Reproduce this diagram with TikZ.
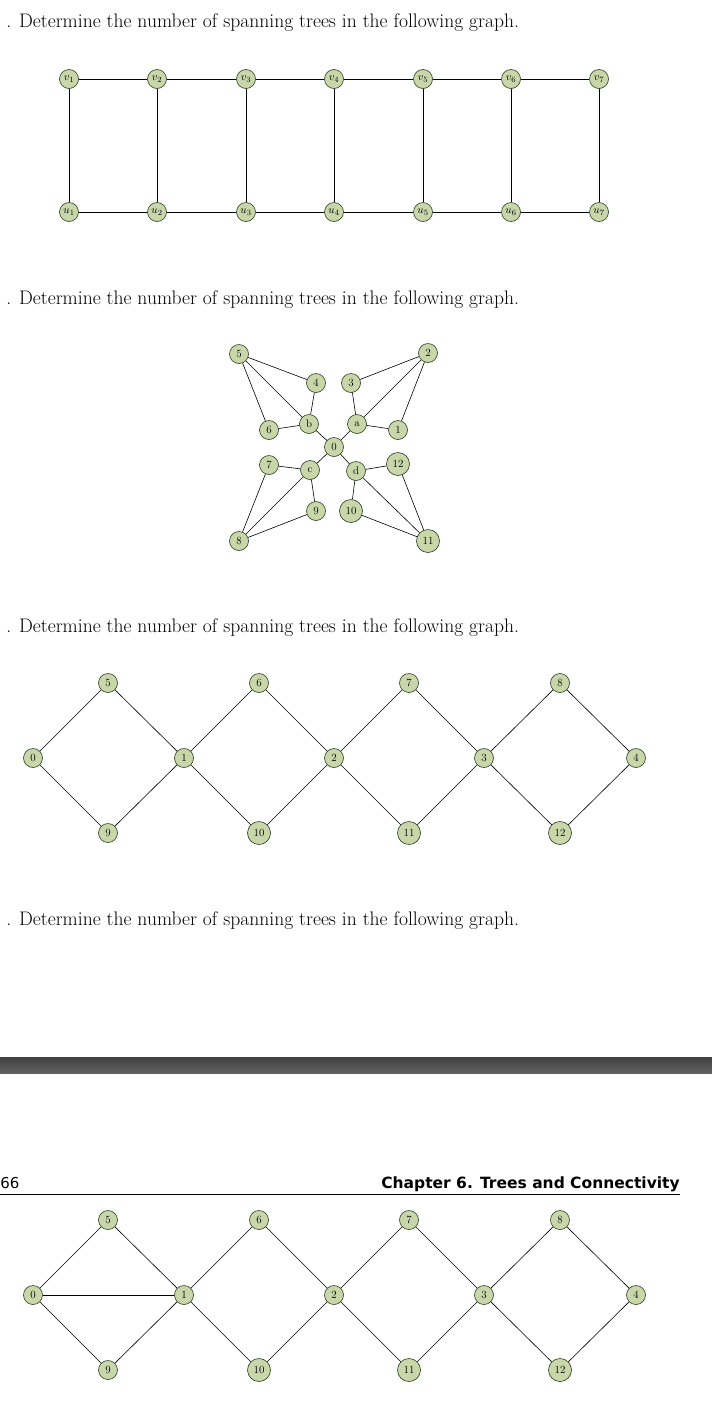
\documentclass[tikz,border=0pt]{standalone}
\usepackage{fontspec}
\newfontfamily\hdfont{DejaVu Sans}
\usetikzlibrary{calc, positioning}
\definecolor{vfill}{RGB}{200,214,170}
\definecolor{vline}{RGB}{40,60,30}
\tikzset{
  vert/.style={circle, draw=vline, fill=vfill, inner sep=1pt, minimum size=19pt, font=\fontsize{11}{12}\selectfont},
  bigvert/.style={vert, minimum size=23pt},
  question/.style={anchor=west, font=\fontsize{19.6}{23}\selectfont, inner sep=0pt}
}
\begin{document}
\begin{tikzpicture}[x=1pt, y=-1pt, line width=0.6pt]
\useasboundingbox (0,0) rectangle (712,1406);
% questions
\node[question] (q1) at (6,23) {. Determine the number of spanning trees in the following graph.};
\node[question] (q2) at (6,300) {. Determine the number of spanning trees in the following graph.};
\node[question] (q3) at (6,628) {. Determine the number of spanning trees in the following graph.};
\node[question] (q4) at (6,921) {. Determine the number of spanning trees in the following graph.};

% ladder
\foreach \i/\x in {1/69,2/157,3/246,4/334,5/423,6/511,7/599} {
  \node[vert] (v\i) at (\x,79) {$v_{\i}$};
  \node[vert] (u\i) at (\x,212) {$u_{\i}$};
}
\foreach \i in {1,...,7} \draw (v\i)--(u\i);
\foreach \i [evaluate=\i as \j using int(\i+1)] in {1,...,6} {
  \draw (v\i)--(v\j);
  \draw (u\i)--(u\j);
}

% four wings
\node[vert] (w0) at (334,447) {0};
\node[vert] (wb) at (309,424) {b};
\node[vert] (wa) at (357,424) {a};
\node[vert] (wc) at (310,470) {c};
\node[vert] (wd) at (356,471) {d};
\node[vert] (w5) at (239,354) {5};
\node[vert] (w4) at (316,383) {4};
\node[vert] (w6) at (269,430) {6};
\node[vert] (w2) at (428,353) {2};
\node[vert] (w3) at (351,383) {3};
\node[vert] (w1) at (398,430) {1};
\node[vert] (w7) at (269,465) {7};
\node[vert] (w9) at (316,511) {9};
\node[vert] (w8) at (239,541) {8};
\node[bigvert] (w12) at (398,464) {12};
\node[bigvert] (w10) at (351,511) {10};
\node[bigvert] (w11) at (428,541) {11};
\foreach \s/\t in {5/4,5/b,5/6,4/b,6/b,b/0,2/3,2/a,2/1,3/a,a/1,a/0,
                   0/c,7/c,c/8,c/9,7/8,9/8,0/d,d/12,d/10,d/11,12/11,10/11}
  \draw (w\s)--(w\t);

% chain of diamonds
\foreach \g/\dy in {p/0,q/537} {
  \foreach \n/\x/\y in {0/33/758,5/108/683,9/108/833,1/184/758,6/259/683,2/334/758,
                        7/409/683,3/484/758,8/560/683,4/636/758}
    \node[vert] (\g\n) at (\x,\y+\dy) {\n};
  \foreach \n/\x in {10/259,11/409,12/560}
    \node[bigvert] (\g\n) at (\x,833+\dy) {\n};
  \foreach \s/\t in {0/5,0/9,5/1,9/1,1/6,1/10,6/2,10/2,2/7,2/11,7/3,11/3,3/8,3/12,8/4,12/4}
    \draw (\g\s)--(\g\t);
}
\draw (q0)--(q1);

% page break
\shade[top color=black!75, bottom color=black!62] (0,1057) rectangle (712,1073);
\node[anchor=base west, inner sep=0pt, font=\hdfont\fontsize{15}{17}\selectfont] (pg) at (0,1188) {66};
\node[anchor=base east, inner sep=0pt, font=\hdfont\bfseries\fontsize{15.5}{17}\selectfont] (ch) at (680,1188) {Chapter 6. Trees and Connectivity};
\draw[line width=0.8pt] (0,1194) -- (680,1194);
\end{tikzpicture}
\end{document}
